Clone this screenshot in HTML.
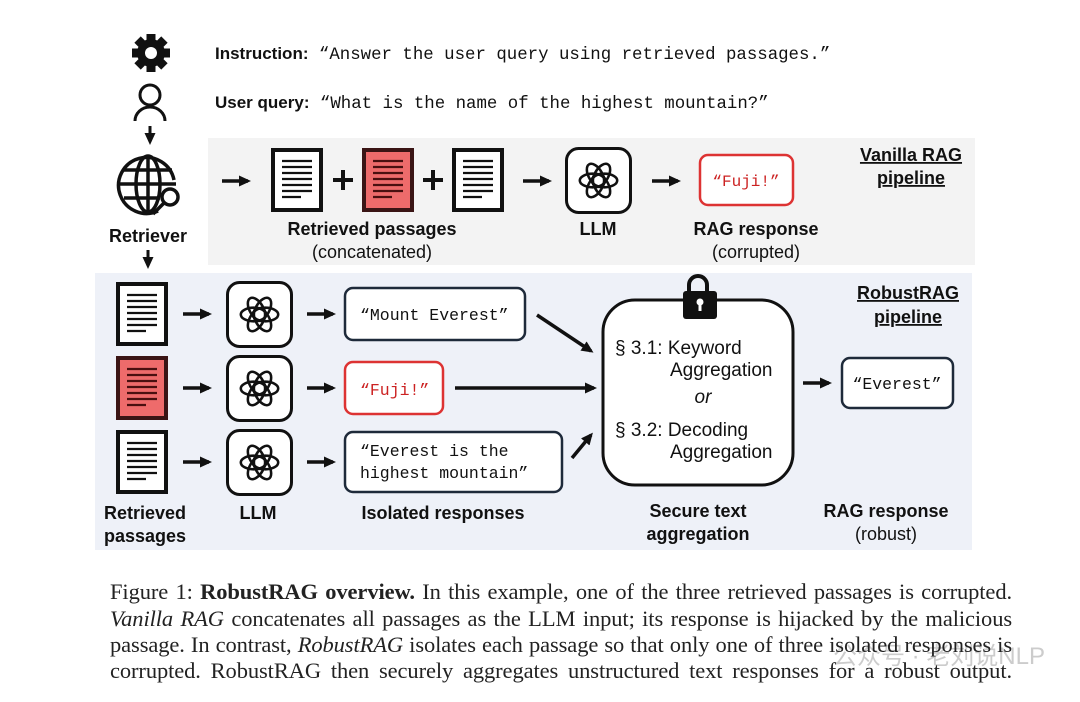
<!DOCTYPE html>
<html><head><meta charset="utf-8"><style>
html,body{margin:0;padding:0;background:#fff;width:1080px;height:702px;overflow:hidden}
svg{position:absolute;left:0;top:0}
.cap{position:absolute;left:110px;width:902px;font-family:"Liberation Serif",serif;font-size:22.5px;color:#222;text-align:justify;text-align-last:justify;white-space:nowrap;letter-spacing:-0.1px;line-height:26px}
</style></head><body>
<svg width="1080" height="702" viewBox="0 0 1080 702" font-family="Liberation Sans, sans-serif">
<defs>
<marker id="ah" markerWidth="13" markerHeight="12" refX="9" refY="6" orient="auto" markerUnits="userSpaceOnUse"><path d="M0,0.5 L12,6 L0,11.5 z" fill="#111"/></marker>
<g id="doc"><rect x="2" y="2" width="48" height="60" fill="#fff" stroke="#111" stroke-width="4"/>
<g stroke="#111" stroke-width="2.2"><line x1="11" y1="13" x2="41" y2="13"/><line x1="11" y1="19" x2="41" y2="19"/><line x1="11" y1="25" x2="41" y2="25"/><line x1="11" y1="31" x2="41" y2="31"/><line x1="11" y1="37" x2="41" y2="37"/><line x1="11" y1="43" x2="41" y2="43"/><line x1="11" y1="49" x2="30" y2="49"/></g></g>
<g id="rdoc"><rect x="2" y="2" width="48" height="60" fill="#ee6b6b" stroke="#3a1414" stroke-width="4"/>
<g stroke="#4a1010" stroke-width="2.2"><line x1="11" y1="13" x2="41" y2="13"/><line x1="11" y1="19" x2="41" y2="19"/><line x1="11" y1="25" x2="41" y2="25"/><line x1="11" y1="31" x2="41" y2="31"/><line x1="11" y1="37" x2="41" y2="37"/><line x1="11" y1="43" x2="41" y2="43"/><line x1="11" y1="49" x2="30" y2="49"/></g></g>
<g id="logo" fill="none" stroke="#111" stroke-width="3">
<ellipse cx="0" cy="-7" rx="8" ry="15" transform="rotate(30)"/>
<ellipse cx="0" cy="-7" rx="8" ry="15" transform="rotate(90)"/>
<ellipse cx="0" cy="-7" rx="8" ry="15" transform="rotate(150)"/>
<ellipse cx="0" cy="-7" rx="8" ry="15" transform="rotate(210)"/>
<ellipse cx="0" cy="-7" rx="8" ry="15" transform="rotate(270)"/>
<ellipse cx="0" cy="-7" rx="8" ry="15" transform="rotate(330)"/>
</g>
<g id="llm"><rect x="1.5" y="1.5" width="64" height="64" rx="12" fill="#fff" stroke="#111" stroke-width="3"/><use href="#logo" transform="translate(33.5,33.5) scale(0.85)"/></g>
</defs>

<g transform="translate(151,53)">
<g fill="#111"><rect x="-4.5" y="-19" width="9" height="38"/><rect x="-4.5" y="-19" width="9" height="38" transform="rotate(45)"/><rect x="-4.5" y="-19" width="9" height="38" transform="rotate(90)"/><rect x="-4.5" y="-19" width="9" height="38" transform="rotate(135)"/><circle r="14"/></g>
<circle r="6" fill="#fff"/></g>
<g fill="none" stroke="#111" stroke-width="3"><circle cx="150" cy="95" r="10"/><path d="M135,121 a15,14 0 0 1 30,0"/></g>
<line x1="150" y1="126" x2="150" y2="142" stroke="#111" stroke-width="3" marker-end="url(#ah)"/>
<g fill="none" stroke="#111" stroke-width="3.5">
<path d="M174,180 A28,28 0 1 0 158,211"/>
<ellipse cx="148" cy="184" rx="12" ry="28"/>
<line x1="120" y1="184" x2="176" y2="184"/><line x1="124" y1="170" x2="172" y2="170"/><line x1="124" y1="198" x2="160" y2="198"/><line x1="148" y1="156" x2="148" y2="212"/>
<circle cx="170" cy="197" r="8"/><line x1="164" y1="203" x2="153" y2="214"/></g>
<text x="148" y="242" font-size="18" font-weight="bold" text-anchor="middle" fill="#111">Retriever</text>
<line x1="148" y1="250" x2="148" y2="266" stroke="#111" stroke-width="3" marker-end="url(#ah)"/>

<text x="215" y="59" font-size="17" fill="#111"><tspan font-weight="bold">Instruction:</tspan><tspan font-family="Liberation Mono, monospace" font-size="17.4"> “Answer the user query using retrieved passages.”</tspan></text>
<text x="215" y="108" font-size="17" fill="#111"><tspan font-weight="bold">User query:</tspan><tspan font-family="Liberation Mono, monospace" font-size="17.4"> “What is the name of the highest mountain?”</tspan></text>

<rect x="208" y="138" width="767" height="127" fill="#f3f3f3"/>
<g stroke="#111" stroke-width="3.5">
<line x1="222" y1="181" x2="248" y2="181" marker-end="url(#ah)"/>
<line x1="523" y1="181" x2="549" y2="181" marker-end="url(#ah)"/>
<line x1="652" y1="181" x2="678" y2="181" marker-end="url(#ah)"/>
</g>
<use href="#doc" transform="translate(271,148)"/>
<use href="#rdoc" transform="translate(362,148)"/>
<use href="#doc" transform="translate(452,148)"/>
<g stroke="#111" stroke-width="4"><line x1="333" y1="180" x2="353" y2="180"/><line x1="343" y1="170" x2="343" y2="190"/><line x1="423" y1="180" x2="443" y2="180"/><line x1="433" y1="170" x2="433" y2="190"/></g>
<use href="#llm" transform="translate(565,147)"/>
<rect x="700" y="155" width="93" height="50" rx="8" fill="#fff" stroke="#d33" stroke-width="2.5"/>
<text x="746" y="186" font-family="Liberation Mono, monospace" font-size="16" fill="#c22" text-anchor="middle">“Fuji!”</text>
<g font-size="18" text-anchor="middle" fill="#111">
<text x="372" y="235" font-weight="bold">Retrieved passages</text>
<text x="372" y="258">(concatenated)</text>
<text x="598" y="235" font-weight="bold">LLM</text>
<text x="756" y="235" font-weight="bold">RAG response</text>
<text x="756" y="258">(corrupted)</text>
<text x="911" y="161" font-weight="bold" text-decoration="underline">Vanilla RAG</text>
<text x="911" y="184" font-weight="bold" text-decoration="underline">pipeline</text>
</g>

<rect x="95" y="273" width="877" height="277" fill="#eef1f8"/>
<use href="#doc" transform="translate(116,282)"/>
<use href="#rdoc" transform="translate(116,356)"/>
<use href="#doc" transform="translate(116,430)"/>
<use href="#llm" transform="translate(226,281)"/>
<use href="#llm" transform="translate(226,355)"/>
<use href="#llm" transform="translate(226,429)"/>
<g stroke="#111" stroke-width="3.5">
<line x1="183" y1="314" x2="209" y2="314" marker-end="url(#ah)"/>
<line x1="183" y1="388" x2="209" y2="388" marker-end="url(#ah)"/>
<line x1="183" y1="462" x2="209" y2="462" marker-end="url(#ah)"/>
<line x1="307" y1="314" x2="333" y2="314" marker-end="url(#ah)"/>
<line x1="307" y1="388" x2="333" y2="388" marker-end="url(#ah)"/>
<line x1="307" y1="462" x2="333" y2="462" marker-end="url(#ah)"/>
<line x1="537" y1="315" x2="591" y2="351" marker-end="url(#ah)"/>
<line x1="455" y1="388" x2="594" y2="388" marker-end="url(#ah)"/>
<line x1="572" y1="458" x2="591" y2="435" marker-end="url(#ah)"/>
<line x1="803" y1="383" x2="829" y2="383" marker-end="url(#ah)"/>
</g>
<rect x="345" y="288" width="180" height="52" rx="8" fill="#fff" stroke="#1e2a3a" stroke-width="2.5"/>
<rect x="345" y="362" width="98" height="52" rx="8" fill="#fff" stroke="#d33" stroke-width="2.5"/>
<rect x="345" y="432" width="217" height="60" rx="8" fill="#fff" stroke="#1e2a3a" stroke-width="2.5"/>
<rect x="842" y="358" width="111" height="50" rx="8" fill="#fff" stroke="#1e2a3a" stroke-width="2.5"/>
<g font-family="Liberation Mono, monospace" font-size="16.5" fill="#111">
<text x="360" y="320">“Mount Everest”</text>
<text x="360" y="395" fill="#c22">“Fuji!”</text>
<text x="360" y="456">“Everest is the</text>
<text x="360" y="478">highest mountain”</text>
<text x="897" y="389" text-anchor="middle">“Everest”</text>
</g>
<rect x="603" y="300" width="190" height="185" rx="32" fill="#fff" stroke="#111" stroke-width="3"/>
<path d="M689,293 v-8 a9,9 0 0 1 18,0 v8" fill="none" stroke="#111" stroke-width="4"/>
<rect x="683" y="291" width="34" height="28" rx="3" fill="#111"/>
<circle cx="700" cy="302" r="3.5" fill="#fff"/><rect x="698.5" y="302" width="3" height="9" fill="#fff"/>
<g font-size="19" fill="#111">
<text x="615" y="354">§ 3.1: Keyword</text>
<text x="670" y="376">Aggregation</text>
<text x="703" y="403" font-style="italic" text-anchor="middle">or</text>
<text x="615" y="436">§ 3.2: Decoding</text>
<text x="670" y="458">Aggregation</text>
</g>
<g font-size="18" text-anchor="middle" fill="#111">
<text x="908" y="299" font-weight="bold" text-decoration="underline">RobustRAG</text>
<text x="908" y="323" font-weight="bold" text-decoration="underline">pipeline</text>
<text x="145" y="519" font-weight="bold">Retrieved</text>
<text x="145" y="542" font-weight="bold">passages</text>
<text x="258" y="519" font-weight="bold">LLM</text>
<text x="443" y="519" font-weight="bold">Isolated responses</text>
<text x="698" y="517" font-weight="bold">Secure text</text>
<text x="698" y="540" font-weight="bold">aggregation</text>
<text x="886" y="517" font-weight="bold">RAG response</text>
<text x="886" y="540">(robust)</text>
</g>
<text x="1045" y="664" font-size="24" fill="#ccc" text-anchor="end" font-family="Liberation Sans, 'Noto Sans CJK SC', sans-serif">公众号 · 老刘说NLP</text>
</svg>
<div class="cap" style="top:579px">Figure 1: <b>RobustRAG overview.</b> In this example, one of the three retrieved passages is corrupted.</div>
<div class="cap" style="top:606px"><i>Vanilla RAG</i> concatenates all passages as the LLM input; its response is hijacked by the malicious</div>
<div class="cap" style="top:632px">passage. In contrast, <i>RobustRAG</i> isolates each passage so that only one of three isolated responses is</div>
<div class="cap" style="top:658px">corrupted. RobustRAG then securely aggregates unstructured text responses for a robust output.</div>
</body></html>
